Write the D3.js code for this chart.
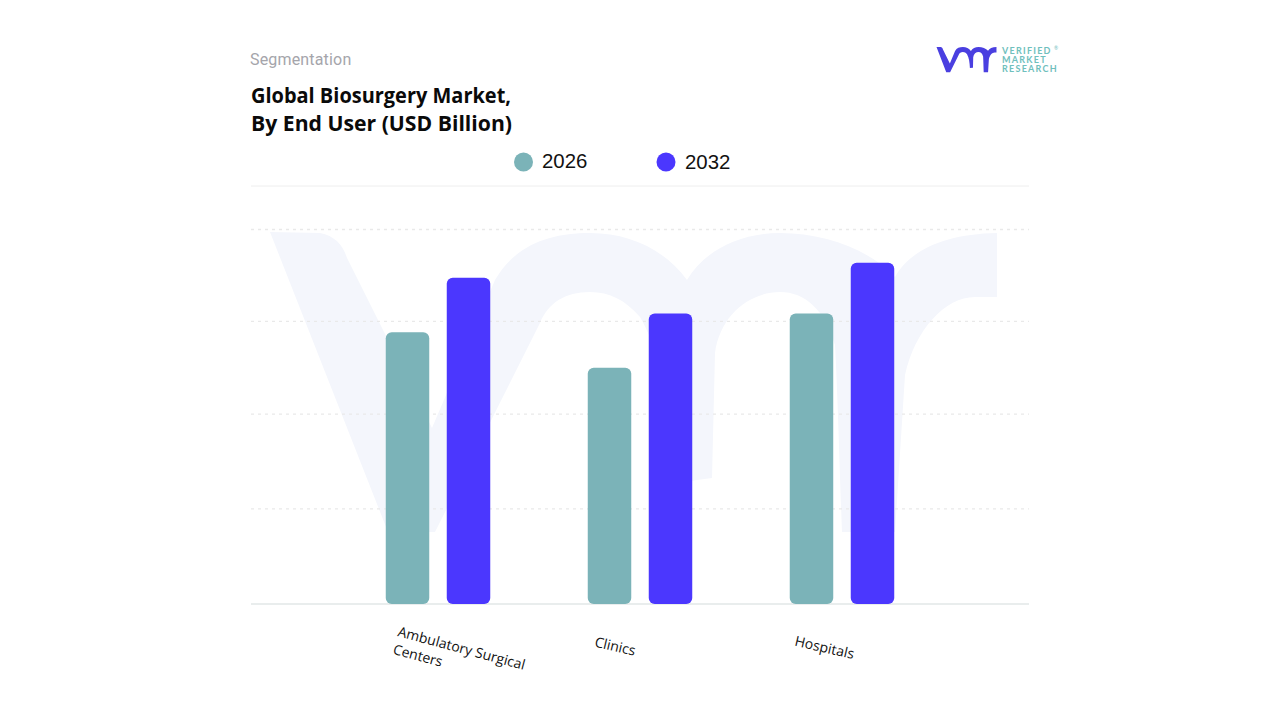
<!DOCTYPE html>
<html>
<head>
<meta charset="utf-8">
<title>Global Biosurgery Market, By End User</title>
<script src="https://cdn.jsdelivr.net/npm/d3@7"></script>
<style>
  body { margin: 0; background: #fff; }
  svg { display: block; }
</style>
</head>
<body>
<script>
var categories = ["Ambulatory Surgical Centers", "Clinics", "Hospitals"];
var years = ["2026", "2032"];
var values2026 = [2.9, 2.52, 3.1];
var values2032 = [3.48, 3.1, 3.64];
var gridTicks = [1.02, 2.03, 3.02, 4];
var colors = ["#7bb3b8", "#4b37fe"];

var w = 1280;
var h = 720;

// the vmr mark, used big for the watermark and small for the logo
var markPath = "M270,232 L320,233 C335,236 343,245 347,258 L432,428 L495,280 C515,245 550,233 590,233 " +
    "C630,233 665,250 687,280 C705,250 740,233 780,233 C825,233 870,250 895,277 C910,250 945,234 997,233 " +
    "L997,297 L975,297 C945,297 915,330 905,375 L895,532 L842,532 C840,480 838,400 835,345 " +
    "C825,310 805,292 780,292 C750,292 720,315 715,353 L712,478 L675,483 C672,420 665,360 640,317 " +
    "C625,300 610,292 590,292 C565,292 548,303 540,323 L435,532 L388,532 Z";

var svg = d3.select("body")
    .append("svg")
    .attr("width", w)
    .attr("height", h)
    .attr("viewBox", "0 0 " + w + " " + h);

var x0 = d3.scaleBand()
    .domain(categories)
    .range([337, 943])
    .paddingInner(0.4827)
    .paddingOuter(0.2414);

var x1 = d3.scaleBand()
    .domain(years)
    .range([0, x0.bandwidth()])
    .paddingInner(0.287);

var y = d3.scaleLinear()
    .domain([0, 4])
    .range([604, 229]);

// watermark sits under the grid
svg.append("path")
    .attr("d", markPath)
    .attr("fill", "#f4f6fc");

// top rule under the legend
svg.append("line")
    .attr("x1", 251)
    .attr("x2", 1029)
    .attr("y1", 186)
    .attr("y2", 186)
    .attr("stroke", "#eeeeee")
    .attr("stroke-width", 1);

var grid = svg.append("g")
    .attr("transform", "translate(251,0)")
    .call(d3.axisLeft(y).tickValues(gridTicks).tickSize(-778).tickFormat(""));
grid.select(".domain").remove();
grid.selectAll("line")
    .attr("stroke", "#e9e9e9")
    .attr("stroke-width", 1.3)
    .attr("stroke-dasharray", "3 4");

// baseline
svg.append("line")
    .attr("x1", 251)
    .attr("x2", 1029)
    .attr("y1", y(0))
    .attr("y2", y(0))
    .attr("stroke", "#e9eded")
    .attr("stroke-width", 2);

var groups = svg.selectAll(".group")
    .data(categories)
    .enter()
    .append("g")
    .attr("class", "group")
    .attr("transform", function(d) { return "translate(" + x0(d) + ",0)"; });

groups.selectAll("rect")
    .data(function(d, i) {
        return [
            { year: years[0], value: values2026[i] },
            { year: years[1], value: values2032[i] }
        ];
    })
    .enter()
    .append("rect")
    .attr("x", function(d) { return x1(d.year); })
    .attr("y", function(d) { return y(d.value); })
    .attr("width", x1.bandwidth())
    .attr("height", function(d) { return y(0) - y(d.value); })
    .attr("rx", 6)
    .attr("fill", function(d, i) { return colors[i]; });

// category labels are tilted and not centred on the groups
var labelLines = [["Ambulatory Surgical", "Centers"], ["Clinics"], ["Hospitals"]];
var labelStart = [[397, 636], [594, 646.5], [794, 645.5]];
var labelAngle = [15, 13, 13];

var labels = svg.selectAll(".cat")
    .data(categories)
    .enter()
    .append("text")
    .attr("class", "cat")
    .attr("transform", function(d, i) {
        return "translate(" + labelStart[i][0] + "," + labelStart[i][1] + ") rotate(" + labelAngle[i] + ")";
    })
    .attr("font-family", "'Open Sans'")
    .attr("font-size", 14)
    .attr("fill", "#111");

labels.selectAll("tspan")
    .data(function(d, i) { return labelLines[i]; })
    .enter()
    .append("tspan")
    .attr("x", 0)
    .attr("y", function(d, i) { return i * 18.4; })
    .text(function(d) { return d; });

// legend
var legendX = [523.5, 666];
var legendTextX = [542, 685];
var legendTextY = [168, 169];
years.forEach(function(yr, i) {
    svg.append("circle")
        .attr("cx", legendX[i])
        .attr("cy", 162)
        .attr("r", 9.5)
        .attr("fill", colors[i]);
    svg.append("text")
        .attr("x", legendTextX[i])
        .attr("y", legendTextY[i])
        .attr("font-family", "'Liberation Sans'")
        .attr("font-size", 20.4)
        .attr("fill", "#111")
        .text(yr);
});

// headings
svg.append("text")
    .attr("x", 250)
    .attr("y", 65)
    .attr("font-family", "Roboto")
    .attr("font-size", 16)
    .attr("letter-spacing", 0.17)
    .attr("fill", "#a5a5ab")
    .text("Segmentation");

svg.append("text")
    .attr("x", 251)
    .attr("y", 103)
    .attr("font-family", "'Open Sans'")
    .attr("font-weight", 700)
    .attr("font-size", 21)
    .attr("textLength", 260)
    .attr("lengthAdjust", "spacingAndGlyphs")
    .attr("fill", "#0a0a0a")
    .text("Global Biosurgery Market,");

svg.append("text")
    .attr("x", 251)
    .attr("y", 131)
    .attr("font-family", "'Open Sans'")
    .attr("font-weight", 700)
    .attr("font-size", 21)
    .attr("textLength", 261)
    .attr("lengthAdjust", "spacingAndGlyphs")
    .attr("fill", "#0a0a0a")
    .text("By End User (USD Billion)");

// logo
svg.append("path")
    .attr("d", markPath)
    .attr("fill", "#4a3fe0")
    .attr("transform", "translate(936.5,47) scale(0.0825,0.084) translate(-270,-232)");

var logoLines = ["VERIFIED", "MARKET", "RESEARCH"];
svg.selectAll(".logo-text")
    .data(logoLines)
    .enter()
    .append("text")
    .attr("class", "logo-text")
    .attr("x", 1002)
    .attr("y", function(d, i) { return 53.5 + i * 9.3; })
    .attr("font-family", "Lato")
    .attr("font-weight", 700)
    .attr("font-size", 9)
    .attr("letter-spacing", 1.25)
    .attr("fill", "#6fc0bd")
    .text(function(d) { return d; });

svg.append("text")
    .attr("x", 1054)
    .attr("y", 50)
    .attr("font-family", "Lato")
    .attr("font-size", 5)
    .attr("fill", "#6fc0bd")
    .text("®");
</script>
</body>
</html>
